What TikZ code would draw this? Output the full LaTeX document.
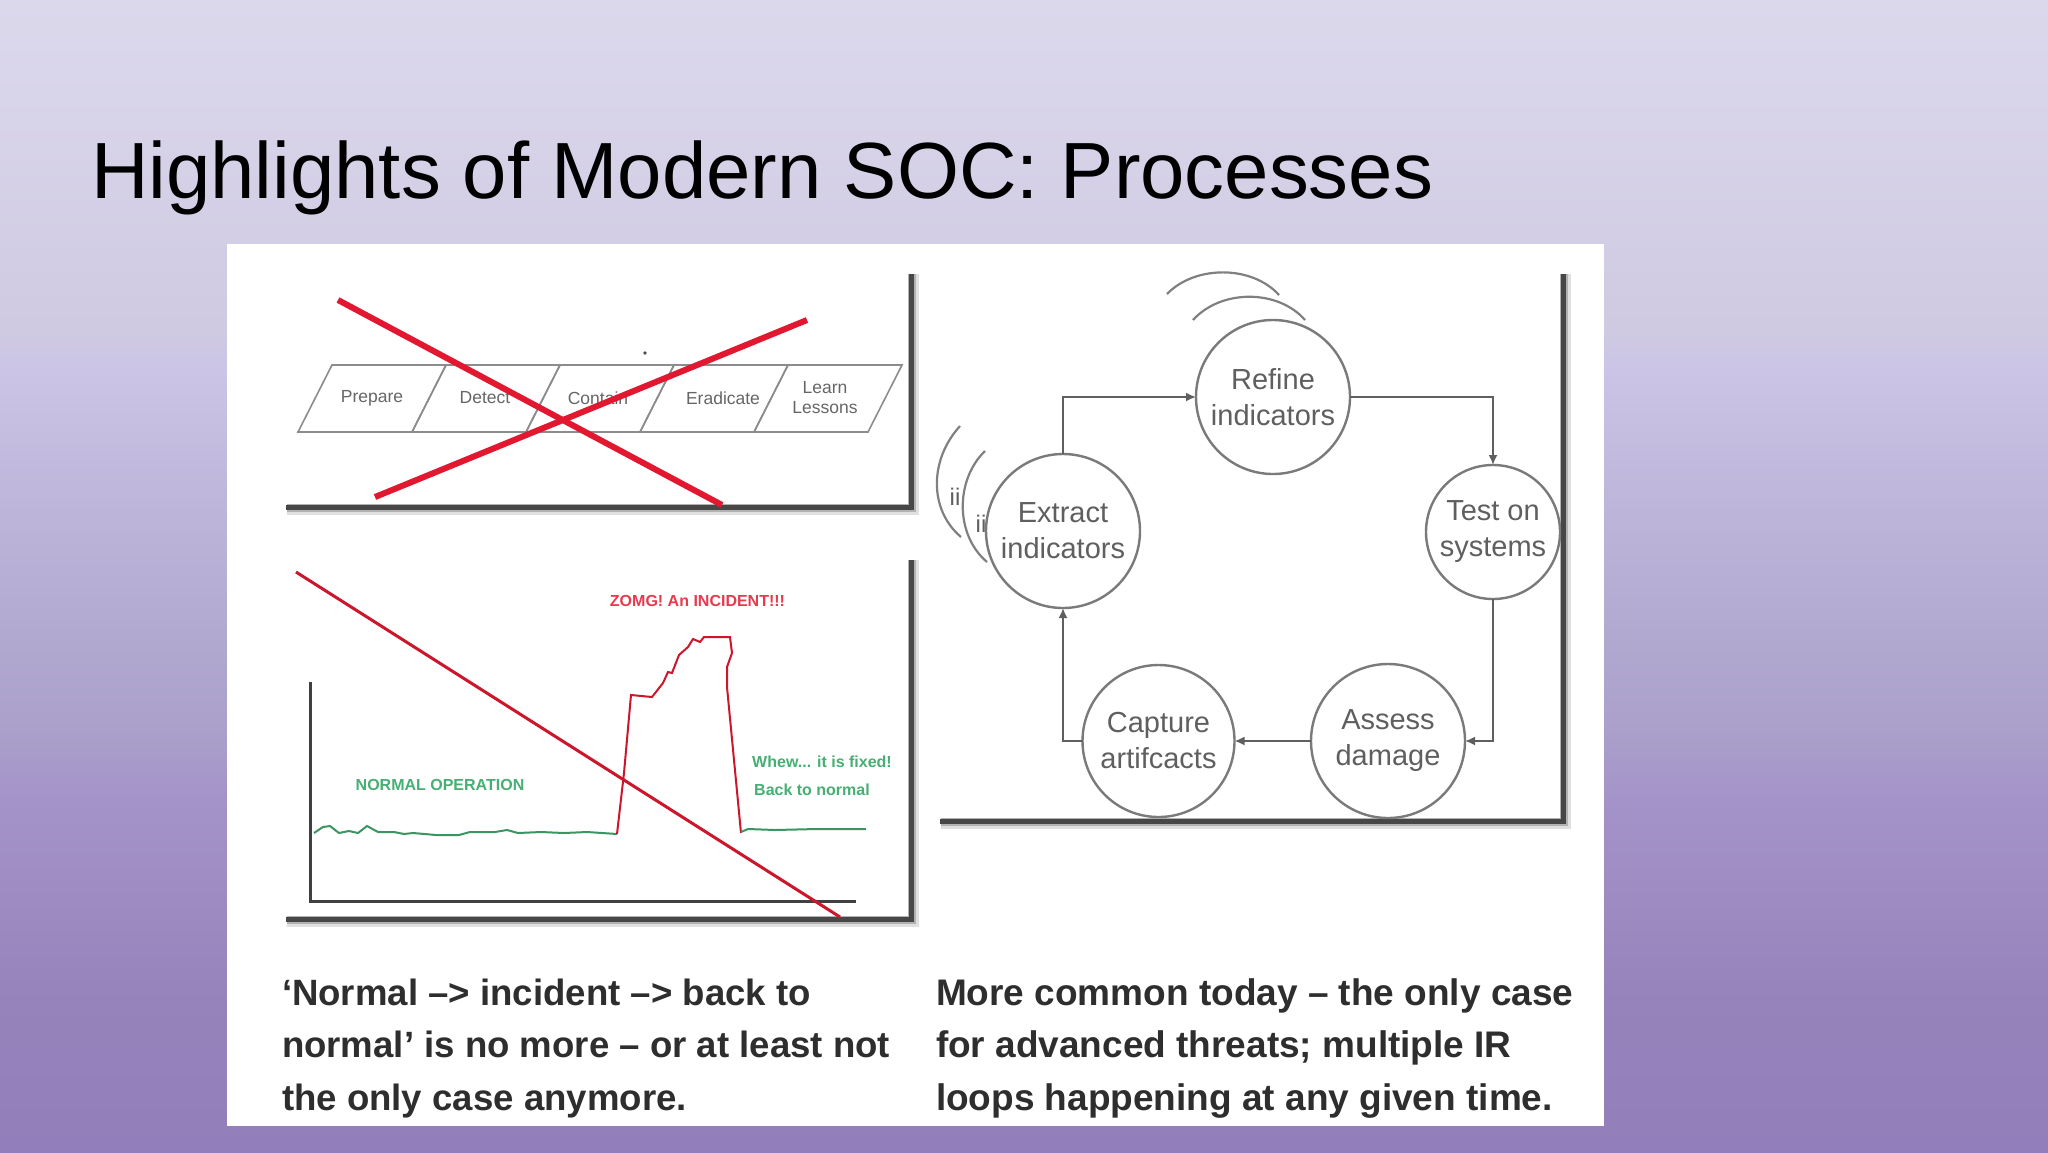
\documentclass[tikz,border=0pt]{standalone}
\usepackage{fontspec}
\setmainfont{Liberation Sans}
\usetikzlibrary{shapes,arrows.meta}
\definecolor{bga}{RGB}{220,216,236}
\definecolor{bgb}{RGB}{207,202,226}
\definecolor{bgc}{RGB}{203,196,230}
\definecolor{bgd}{RGB}{184,176,213}
\definecolor{bge}{RGB}{170,160,203}
\definecolor{bgf}{RGB}{164,147,200}
\definecolor{bgg}{RGB}{151,131,187}
\definecolor{bgh}{RGB}{146,126,186}
\definecolor{crossred}{RGB}{226,24,48}
\definecolor{plotgreen}{RGB}{70,175,115}
\definecolor{loopgray}{RGB}{95,95,95}
\pgfdeclareverticalshading{slidebg}{100bp}{color(0bp)=(bgh); color(25bp)=(bgh); color(31.6bp)=(bgg); color(40.3bp)=(bgf); color(43.3bp)=(bge); color(50.7bp)=(bgd); color(58.95bp)=(bgc); color(60.7bp)=(bgb); color(75bp)=(bga); color(100bp)=(bga)}

\begin{document}
\begin{tikzpicture}[x=1pt, y=-1pt,
      every node/.append style={inner sep=0pt,outer sep=0pt,align=center},
      phase/.style={text=black!60,font=\fontsize{17.5}{20}\selectfont},
      loopnode/.style={circle,draw=black!52,line width=2.4pt,fill=white,text=loopgray,
        font=\fontsize{29}{36}\selectfont},
      flow/.style={draw=loopgray,line width=1.8pt,-{Latex[length=10pt,width=9pt]}},
      caption/.style={anchor=base west,align=left,text=black!82,font=\fontsize{37}{52.5}\selectfont\bfseries}]
    \tikzstyle{plotnote} = [font=\fontsize{16}{18}\selectfont\bfseries]
    \tikzstyle{ripple} = [draw=black!50,line width=2.2pt]

    \useasboundingbox (0,0) rectangle (2048,1152);
    \shade[shading=slidebg] (0,0) rectangle (2048,1152);
    \node (title) [anchor=base west,font=\fontsize{79.7}{90}\selectfont,text=black] at (91,198) {Highlights of Modern SOC: Processes};
    \fill[white] (227,244) rectangle (1604,1126);

    % panel edges
    \foreach \xa/\ya/\xb/\yb in {286/507/911/274, 286/919/911/560, 940/821/1563/274} {
      \draw[black!12,line width=11pt] (\xa+1,\ya+2) -- (\xb+2,\ya+2) -- (\xb+2,\yb);
      \draw[black!30,line width=8pt] (\xa+1,\ya+1) -- (\xb+1,\ya+1) -- (\xb+1,\yb);
      \draw[black!72,line width=5pt] (\xa,\ya) -- (\xb,\ya) -- (\xb,\yb);
    }

    % crossed out phases
    \foreach \cx in {298,412,526,640,754} {
      \draw[black!45,line width=1.6pt] (\cx,432) -- (\cx+114,432) -- (\cx+148,365) -- (\cx+34,365) -- cycle;
    }
    \node (prepare) [phase] at (372,398) {Prepare};
    \node (detect) [phase] at (485,398) {Detect};
    \node (contain) [phase] at (598,398) {Contain};
    \node (eradicate) [phase] at (723,398) {Eradicate};
    \node (learn) [phase] at (825,398) {Learn\\Lessons};
    \fill[black!70] (645,353) circle (1.8pt);
    \draw[crossred,line width=6pt] (338,300) -- (722,505);
    \draw[crossred,line width=6pt] (375,497) -- (807,320);

    % incident plot
    \draw[black!75,line width=3pt] (310.5,682) -- (310.5,901) -- (856,901);
    \draw[plotgreen!85!black,line width=2pt] (314,833) -- (323,827) -- (330,826) -- (339,833) -- (349,831) -- (358,833) -- (367,826) -- (378,832) -- (394,832) -- (404,834) -- (413,833) -- (436,835) -- (459,835) -- (470,832) -- (495,832) -- (507,830) -- (518,833) -- (541,832) -- (564,833) -- (587,832) -- (617,834);
    \draw[crossred!90!black,line width=2pt] (617,834) -- (624,773) -- (631,695) -- (652,697) -- (663,683) -- (668,672) -- (672,673) -- (679,655) -- (688,647) -- (693,639) -- (700,642) -- (704,637) -- (730,637) -- (732,653) -- (727,667) -- (727,687) -- (741,833);
    \draw[plotgreen!85!black,line width=2pt] (741,832) -- (748,829) -- (775,830) -- (817,829) -- (866,829);
    \draw[crossred!90!black,line width=3pt] (296,572) -- (840,917);
    \node (zomg) [plotnote,text=crossred!85] at (697.5,601) {ZOMG! An INCIDENT!!!};
    \node (normal_op) [plotnote,text=plotgreen] at (440,785) {NORMAL OPERATION};
    \node (whew) [plotnote,text=plotgreen] at (822,762) {Whew... it is fixed!};
    \node (back) [plotnote,text=plotgreen] at (812,790) {Back to normal};

    % ir loop
    \draw[ripple] (1167,294) .. controls (1195,265) and (1252,265) .. (1279,295);
    \draw[ripple] (1193,320) .. controls (1221,289) and (1278,289) .. (1305,320);
    \draw[ripple] (960,426) .. controls (929,460) and (929,510) .. (961,537);
    \draw[ripple] (985,451) .. controls (955,480) and (955,535) .. (987,562);
    \node (stub_a) [text=loopgray,font=\fontsize{24}{24}\selectfont] at (955,497) {ii};
    \node (stub_b) [text=loopgray,font=\fontsize{24}{24}\selectfont] at (981,524) {ii};

    \node (refine) [loopnode,minimum size=154pt] at (1273,397) {Refine\\indicators};
    \node (test) [loopnode,minimum size=134pt] at (1493,532) {Test on\\systems};
    \node (assess) [loopnode,minimum size=154pt] at (1388,741) {Assess\\damage};
    \node (capture) [loopnode,minimum size=152pt] at (1158.5,741) {Capture\\artifcacts};
    \node (extract) [loopnode,minimum size=154pt] at (1063,531) {Extract\\indicators};

    \draw[flow] (extract.north) |- (refine.west);
    \draw[flow] (refine.east) -| (test.north);
    \draw[flow] (test.south) |- (assess.east);
    \draw[flow] (assess.west) -- (capture.east);
    \draw[flow] (capture.west) -| (extract.south);

    % captions
    \node (left_caption) [caption,font=\fontsize{36.6}{52.5}\selectfont\bfseries] at (282,1110) {‘Normal –> incident –> back to\\normal’ is no more – or at least not\\the only case anymore.};
    \node (right_caption) [caption] at (936,1110) {More common today – the only case\\for advanced threats; multiple IR\\loops happening at any given time.};
\end{tikzpicture}
\end{document}
